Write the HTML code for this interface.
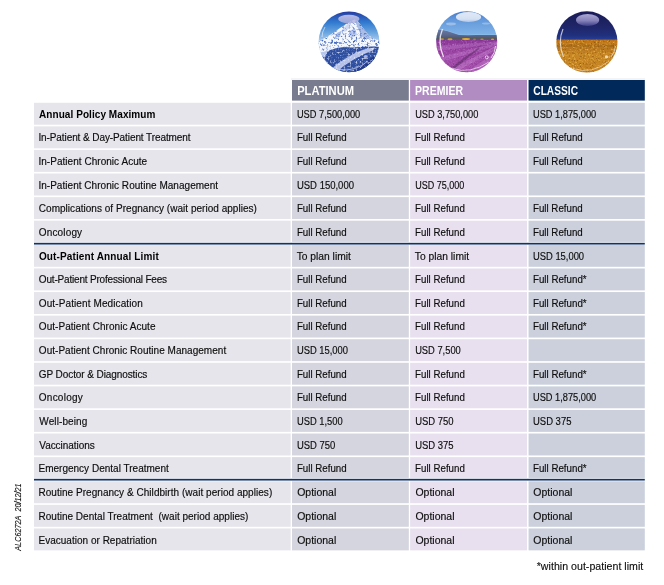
<!DOCTYPE html>
<html><head><meta charset="utf-8"><style>
html,body{margin:0;padding:0;background:#fff;}
body{width:664px;height:585px;overflow:hidden;position:relative;}
svg{position:absolute;left:0;top:0;}
text{font-family:'Liberation Sans', Arial, sans-serif;}
.t{font-size:10px;fill:#0d0d0d;stroke:#0d0d0d;stroke-width:0.15px;}
.b{font-size:10px;font-weight:bold;fill:#000;}
.h{font-size:12.6px;font-weight:bold;fill:#fff;}
.fn{font-size:10.6px;fill:#0d0d0d;stroke:#0d0d0d;stroke-width:0.12px;}
.code{font-size:9.2px;font-style:italic;fill:#111;stroke:#111;stroke-width:0.1px;}
</style></head><body>
<svg width="664" height="585" viewBox="0 0 664 585">
<defs>
  <clipPath id="cp1"><circle cx="349" cy="41.8" r="30.4"/></clipPath>
  <clipPath id="cp2"><circle cx="466.7" cy="41.7" r="30.5"/></clipPath>
  <clipPath id="cp3"><circle cx="586.9" cy="41.9" r="30.6"/></clipPath>
  <clipPath id="mtnclip"><path d="M318 41 L325 38 L333 33 L340 28 L346 24 L351 21 L354.5 19.5 L358 21.5 L363 28 L368 34.5 L373 38.5 L380 40.5 L380 52 L318 52 Z"/></clipPath>
  <linearGradient id="sky1" gradientUnits="userSpaceOnUse" x1="0" y1="11" x2="0" y2="42">
    <stop offset="0" stop-color="#25379a"/><stop offset="0.12" stop-color="#2a4fb0"/><stop offset="0.35" stop-color="#2f78cf"/><stop offset="0.7" stop-color="#6aa6e0"/><stop offset="1" stop-color="#b3d1f1"/>
  </linearGradient>
  <linearGradient id="sky2" gradientUnits="userSpaceOnUse" x1="0" y1="11" x2="0" y2="38">
    <stop offset="0" stop-color="#4478c8"/><stop offset="0.3" stop-color="#6298da"/><stop offset="1" stop-color="#86b8ea"/>
  </linearGradient>
  <linearGradient id="sky3" gradientUnits="userSpaceOnUse" x1="0" y1="11" x2="0" y2="39.6">
    <stop offset="0" stop-color="#1a1b56"/><stop offset="0.5" stop-color="#1e2466"/><stop offset="0.85" stop-color="#21307c"/><stop offset="1" stop-color="#253c98"/>
  </linearGradient>
  <linearGradient id="hl3" x1="0" y1="0" x2="0" y2="1">
    <stop offset="0" stop-color="#aaa6d2"/><stop offset="0.55" stop-color="#8682ba"/><stop offset="1" stop-color="#3c3e8a"/>
  </linearGradient>
  <linearGradient id="hl1" x1="0" y1="0" x2="0" y2="1">
    <stop offset="0" stop-color="#cfcbee"/><stop offset="1" stop-color="#a8acdc"/>
  </linearGradient>
  <linearGradient id="cloud2" x1="0" y1="0" x2="0" y2="1">
    <stop offset="0" stop-color="#f2f5fb"/><stop offset="0.7" stop-color="#e2e9f6"/><stop offset="1" stop-color="#b9cbe9"/>
  </linearGradient>
  <linearGradient id="field3" gradientUnits="userSpaceOnUse" x1="0" y1="39.6" x2="0" y2="73">
    <stop offset="0" stop-color="#bc6e14"/><stop offset="0.12" stop-color="#c47c1c"/><stop offset="0.25" stop-color="#b8761e"/><stop offset="0.45" stop-color="#c98724"/><stop offset="1" stop-color="#c48222"/>
  </linearGradient>
  <linearGradient id="field2" gradientUnits="userSpaceOnUse" x1="0" y1="40" x2="0" y2="73">
    <stop offset="0" stop-color="#8c3a98"/><stop offset="0.4" stop-color="#9c46a4"/><stop offset="1" stop-color="#a650ac"/>
  </linearGradient>
  <filter id="spk" x="0" y="0" width="100%" height="100%" color-interpolation-filters="sRGB">
    <feTurbulence type="fractalNoise" baseFrequency="0.85" numOctaves="2" seed="3"/>
    <feColorMatrix type="matrix" values="0 0 0 0 0  0 0 0 0 0  0 0 0 0 0  3 0 0 0 -1.65" result="a"/>
    <feComposite in="SourceGraphic" in2="a" operator="in"/>
  </filter>
  <filter id="spkL" x="0" y="0" width="100%" height="100%" color-interpolation-filters="sRGB">
    <feTurbulence type="fractalNoise" baseFrequency="0.85" numOctaves="2" seed="9"/>
    <feColorMatrix type="matrix" values="0 0 0 0 0  0 0 0 0 0  0 0 0 0 0  0 3 0 0 -1.65" result="a"/>
    <feComposite in="SourceGraphic" in2="a" operator="in"/>
  </filter>
  <filter id="spkB" x="0" y="0" width="100%" height="100%" color-interpolation-filters="sRGB">
    <feTurbulence type="fractalNoise" baseFrequency="0.45" numOctaves="3" seed="21"/>
    <feColorMatrix type="matrix" values="0 0 0 0 0  0 0 0 0 0  0 0 0 0 0  0 0 4 0 -2.05" result="a"/>
    <feComposite in="SourceGraphic" in2="a" operator="in"/>
  </filter>
  <filter id="spkW" x="0" y="0" width="100%" height="100%" color-interpolation-filters="sRGB">
    <feTurbulence type="fractalNoise" baseFrequency="0.5" numOctaves="3" seed="33"/>
    <feColorMatrix type="matrix" values="0 0 0 0 0  0 0 0 0 0  0 0 0 0 0  0 4 0 0 -2.1" result="a"/>
    <feComposite in="SourceGraphic" in2="a" operator="in"/>
  </filter>
  <filter id="spk3d" x="0" y="0" width="100%" height="100%" color-interpolation-filters="sRGB">
    <feTurbulence type="fractalNoise" baseFrequency="0.55" numOctaves="3" seed="4"/>
    <feColorMatrix type="matrix" values="0 0 0 0 0  0 0 0 0 0  0 0 0 0 0  3 0 0 0 -1.6" result="a"/>
    <feComposite in="SourceGraphic" in2="a" operator="in"/>
  </filter>
  <filter id="spk3l" x="0" y="0" width="100%" height="100%" color-interpolation-filters="sRGB">
    <feTurbulence type="fractalNoise" baseFrequency="0.55" numOctaves="3" seed="14"/>
    <feColorMatrix type="matrix" values="0 0 0 0 0  0 0 0 0 0  0 0 0 0 0  0 3 0 0 -1.6" result="a"/>
    <feComposite in="SourceGraphic" in2="a" operator="in"/>
  </filter>
  <linearGradient id="mtn2" gradientUnits="userSpaceOnUse" x1="0" y1="29.5" x2="0" y2="39">
    <stop offset="0" stop-color="#6a78a2"/><stop offset="0.5" stop-color="#5e6a90"/><stop offset="1" stop-color="#4c5470"/>
  </linearGradient>
  <filter id="soft" x="-20%" y="-40%" width="140%" height="180%"><feGaussianBlur stdDeviation="0.7"/></filter>
</defs>
<!-- faint band above header -->
<rect x="291" y="78" width="354" height="2" fill="#f4f4f6"/>
<!-- Globe 1: mountain -->
<g clip-path="url(#cp1)">
  <rect x="318" y="11" width="62" height="62" fill="url(#sky1)"/>
  <path d="M318 41 L325 38 L333 33 L340 28 L346 24 L351 21 L354.5 19.5 L358 21.5 L363 28 L368 34.5 L373 38.5 L380 40.5 L380 52 L318 52 Z" fill="#f4f7fc"/>
  <path d="M354.5 19.5 L358 21.5 L363 28 L368 34.5 L371 38 L364 39.5 L360 33 L357 26 Z" fill="#aabde6"/>
  <path d="M347 24.5 L351.5 21.5 L350 27 L345 32 L342 30 Z" fill="#cfdaf2"/>
  <path d="M337 33 L342 30.5 L340 36 L334 38.5 Z" fill="#a9bce6"/>
  <path d="M349 31 L355 28.5 L357 35 L351 38 Z" fill="#b8c8ee"/>
  <rect x="318" y="18" width="62" height="34" fill="#2f58b8" filter="url(#spkB)" opacity="0.8" clip-path="url(#mtnclip)"/>
  <rect x="318" y="40.5" width="62" height="5" fill="#3c62bc" filter="url(#spkB)" opacity="0.9"/>
  <path d="M318 60 L324 54 L330 50 L337 48 L344 47 L352 47.5 L360 47 L368 46.5 L375 46.5 L380 47 L380 73 L318 73 Z" fill="#2e4ea0"/>
  <path d="M318 56 L323 52 L328 50.5 L326 55 L320 60 Z" fill="#b8c6ec"/>
  <path d="M327 73 L337 64 L347 57.5 L357 52 L367 48.5 L375 47.5 L373 50.5 L363 54.5 L353 60 L343 66.5 L336 73 Z" fill="#b4c0e8"/>
  <path d="M352 73 L361 65 L371 58 L380 54 L380 73 Z" fill="#223a8c"/>
  <rect x="318" y="46" width="62" height="27" fill="#e6ebfa" filter="url(#spkW)" opacity="0.8"/>
  <rect x="318" y="46" width="62" height="27" fill="#fff" filter="url(#spkL)" opacity="0.3"/>
  <ellipse cx="348.8" cy="19" rx="10.7" ry="4.2" fill="url(#hl1)" opacity="0.85"/>
  <path d="M325 27 Q322 32 322 37" stroke="#ffffff" stroke-width="1" fill="none" opacity="0.55"/>
  <path d="M339 69.5 Q355 72 368 61" stroke="#d8def4" stroke-width="0.9" fill="none" opacity="0.8"/>
  <ellipse cx="365.7" cy="56.5" rx="2" ry="1.6" fill="#b9c2ea" opacity="0.9"/>
</g>
<!-- Globe 2: lavender -->
<g clip-path="url(#cp2)">
  <rect x="436" y="11" width="62" height="30" fill="url(#sky2)"/>
  <ellipse cx="468.5" cy="17" rx="12.6" ry="5" fill="url(#cloud2)" opacity="0.9" filter="url(#soft)"/>
  <ellipse cx="451" cy="24" rx="5" ry="1.4" fill="#a6c4ec" opacity="0.8"/>
  <ellipse cx="486" cy="23.5" rx="4" ry="1.1" fill="#a6c4ec" opacity="0.7"/>
  <path d="M436 29 L441 29.1 L447 30.5 L453 32.5 L459 34.5 L468 34.7 L476 34.3 L486 34.5 L498 34.3 L498 36 L436 36 Z" fill="#8cc0ec"/>
  <path d="M436 29.6 L441 29.7 L447 31.1 L453 33.1 L459 35.1 L468 35.3 L476 34.9 L486 35.1 L498 34.9 L498 40 L436 40 Z" fill="url(#mtn2)"/>
  <rect x="436" y="38.4" width="62" height="1.8" fill="#5e5c4c"/>
  <ellipse cx="442" cy="39.1" rx="2" ry="0.9" fill="#c8a030" opacity="0.9"/>
  <ellipse cx="450" cy="39.2" rx="2.6" ry="0.9" fill="#d8aa2c" opacity="0.9"/>
  <ellipse cx="466" cy="39" rx="4" ry="1.1" fill="#e6b42a" opacity="0.95"/>
  <ellipse cx="474.5" cy="39.3" rx="1.6" ry="0.8" fill="#9a8a3a" opacity="0.9"/>
  <ellipse cx="482" cy="39.2" rx="1.8" ry="0.8" fill="#b89a34" opacity="0.9"/>
  <ellipse cx="492.5" cy="39.4" rx="1.6" ry="0.8" fill="#d8aa30" opacity="0.9"/>
  <rect x="436" y="40" width="62" height="33" fill="url(#field2)"/>
  <path d="M436 46 L498 41.5 L498 43.5 L436 51 Z" fill="#bc78c8" opacity="0.45"/>
  <path d="M436 58 L498 42.5 L498 45 L438 63 Z" fill="#c07ccc" opacity="0.45"/>
  <path d="M444 73 L498 44.5 L498 48.5 L454 73 Z" fill="#c482ce" opacity="0.5"/>
  <path d="M466 73 L498 50 L498 56 L478 73 Z" fill="#c07cca" opacity="0.45"/>
  <rect x="436" y="40" width="62" height="33" fill="#c47ad4" filter="url(#spk3l)" opacity="0.75"/>
  <rect x="436" y="40" width="62" height="33" fill="#5a1c6a" filter="url(#spk3d)" opacity="0.4"/>
  <path d="M452 67 L466 56.5 L478 48 L479.5 48.8 L468 57.5 L455 68.5 Z" fill="#3a2048" opacity="0.4"/>
  <path d="M442.5 29 Q437 42 443.5 57" stroke="#ffffff" stroke-width="1.3" fill="none" opacity="0.8"/>
  <path d="M452 68.5 Q470 74.5 489 62" stroke="#ffffff" stroke-width="0.8" fill="none" opacity="0.75"/>
  <path d="M495.5 46 Q495 53 491 58" stroke="#ffffff" stroke-width="1" fill="none" opacity="0.7"/>
  <circle cx="486.8" cy="57.3" r="1.5" fill="none" stroke="#fff" stroke-width="0.8" opacity="0.85"/>
</g>
<!-- Globe 3: wheat -->
<g clip-path="url(#cp3)">
  <rect x="556" y="11" width="62" height="29" fill="url(#sky3)"/>
  <rect x="556" y="39.6" width="62" height="34" fill="url(#field3)"/>
  <rect x="556" y="39.6" width="62" height="34" fill="#7a4408" filter="url(#spk3d)" opacity="0.7"/>
  <rect x="556" y="44.5" width="62" height="2.5" fill="#8a5a14" opacity="0.35"/>
  <rect x="556" y="39.6" width="62" height="34" fill="#f2c458" filter="url(#spk3l)" opacity="0.8"/>
  <ellipse cx="587.6" cy="20" rx="11.6" ry="6" fill="url(#hl3)"/>
  <path d="M563 29 Q557.3 42 563.5 57" stroke="#ffffff" stroke-width="1.2" fill="none" opacity="0.7"/>
  <path d="M573 68.5 Q592 75 609 61" stroke="#ffffff" stroke-width="0.8" fill="none" opacity="0.6"/>
  <path d="M615.5 46 Q615 52 611 57" stroke="#ffffff" stroke-width="1" fill="none" opacity="0.6"/>
  <ellipse cx="606.6" cy="56.8" rx="1.8" ry="1.5" fill="#f6e6c4" opacity="0.85"/>
</g>

<rect x="34.0" y="102.80" width="256.65" height="21.9" fill="#e5e5eb"/>
<rect x="292.0" y="102.80" width="116.80" height="21.9" fill="#d4d5de"/>
<rect x="410.1" y="102.80" width="116.90" height="21.9" fill="#e8e0ef"/>
<rect x="528.55" y="102.80" width="116.25" height="21.9" fill="#cbd0dc"/>
<rect x="34.0" y="126.38" width="256.65" height="21.9" fill="#e5e5eb"/>
<rect x="292.0" y="126.38" width="116.80" height="21.9" fill="#d4d5de"/>
<rect x="410.1" y="126.38" width="116.90" height="21.9" fill="#e8e0ef"/>
<rect x="528.55" y="126.38" width="116.25" height="21.9" fill="#cbd0dc"/>
<rect x="34.0" y="149.96" width="256.65" height="21.9" fill="#e5e5eb"/>
<rect x="292.0" y="149.96" width="116.80" height="21.9" fill="#d4d5de"/>
<rect x="410.1" y="149.96" width="116.90" height="21.9" fill="#e8e0ef"/>
<rect x="528.55" y="149.96" width="116.25" height="21.9" fill="#cbd0dc"/>
<rect x="34.0" y="173.54" width="256.65" height="21.9" fill="#e5e5eb"/>
<rect x="292.0" y="173.54" width="116.80" height="21.9" fill="#d4d5de"/>
<rect x="410.1" y="173.54" width="116.90" height="21.9" fill="#e8e0ef"/>
<rect x="528.55" y="173.54" width="116.25" height="21.9" fill="#cbd0dc"/>
<rect x="34.0" y="197.12" width="256.65" height="21.9" fill="#e5e5eb"/>
<rect x="292.0" y="197.12" width="116.80" height="21.9" fill="#d4d5de"/>
<rect x="410.1" y="197.12" width="116.90" height="21.9" fill="#e8e0ef"/>
<rect x="528.55" y="197.12" width="116.25" height="21.9" fill="#cbd0dc"/>
<rect x="34.0" y="220.70" width="256.65" height="21.2" fill="#e5e5eb"/>
<rect x="292.0" y="220.70" width="116.80" height="21.2" fill="#d4d5de"/>
<rect x="410.1" y="220.70" width="116.90" height="21.2" fill="#e8e0ef"/>
<rect x="528.55" y="220.70" width="116.25" height="21.2" fill="#cbd0dc"/>
<rect x="34.0" y="244.90" width="256.65" height="21.9" fill="#e5e5eb"/>
<rect x="292.0" y="244.90" width="116.80" height="21.9" fill="#d4d5de"/>
<rect x="410.1" y="244.90" width="116.90" height="21.9" fill="#e8e0ef"/>
<rect x="528.55" y="244.90" width="116.25" height="21.9" fill="#cbd0dc"/>
<rect x="34.0" y="268.48" width="256.65" height="21.9" fill="#e5e5eb"/>
<rect x="292.0" y="268.48" width="116.80" height="21.9" fill="#d4d5de"/>
<rect x="410.1" y="268.48" width="116.90" height="21.9" fill="#e8e0ef"/>
<rect x="528.55" y="268.48" width="116.25" height="21.9" fill="#cbd0dc"/>
<rect x="34.0" y="292.06" width="256.65" height="21.9" fill="#e5e5eb"/>
<rect x="292.0" y="292.06" width="116.80" height="21.9" fill="#d4d5de"/>
<rect x="410.1" y="292.06" width="116.90" height="21.9" fill="#e8e0ef"/>
<rect x="528.55" y="292.06" width="116.25" height="21.9" fill="#cbd0dc"/>
<rect x="34.0" y="315.64" width="256.65" height="21.9" fill="#e5e5eb"/>
<rect x="292.0" y="315.64" width="116.80" height="21.9" fill="#d4d5de"/>
<rect x="410.1" y="315.64" width="116.90" height="21.9" fill="#e8e0ef"/>
<rect x="528.55" y="315.64" width="116.25" height="21.9" fill="#cbd0dc"/>
<rect x="34.0" y="339.22" width="256.65" height="21.9" fill="#e5e5eb"/>
<rect x="292.0" y="339.22" width="116.80" height="21.9" fill="#d4d5de"/>
<rect x="410.1" y="339.22" width="116.90" height="21.9" fill="#e8e0ef"/>
<rect x="528.55" y="339.22" width="116.25" height="21.9" fill="#cbd0dc"/>
<rect x="34.0" y="362.80" width="256.65" height="21.9" fill="#e5e5eb"/>
<rect x="292.0" y="362.80" width="116.80" height="21.9" fill="#d4d5de"/>
<rect x="410.1" y="362.80" width="116.90" height="21.9" fill="#e8e0ef"/>
<rect x="528.55" y="362.80" width="116.25" height="21.9" fill="#cbd0dc"/>
<rect x="34.0" y="386.38" width="256.65" height="21.9" fill="#e5e5eb"/>
<rect x="292.0" y="386.38" width="116.80" height="21.9" fill="#d4d5de"/>
<rect x="410.1" y="386.38" width="116.90" height="21.9" fill="#e8e0ef"/>
<rect x="528.55" y="386.38" width="116.25" height="21.9" fill="#cbd0dc"/>
<rect x="34.0" y="409.96" width="256.65" height="21.9" fill="#e5e5eb"/>
<rect x="292.0" y="409.96" width="116.80" height="21.9" fill="#d4d5de"/>
<rect x="410.1" y="409.96" width="116.90" height="21.9" fill="#e8e0ef"/>
<rect x="528.55" y="409.96" width="116.25" height="21.9" fill="#cbd0dc"/>
<rect x="34.0" y="433.54" width="256.65" height="21.9" fill="#e5e5eb"/>
<rect x="292.0" y="433.54" width="116.80" height="21.9" fill="#d4d5de"/>
<rect x="410.1" y="433.54" width="116.90" height="21.9" fill="#e8e0ef"/>
<rect x="528.55" y="433.54" width="116.25" height="21.9" fill="#cbd0dc"/>
<rect x="34.0" y="457.12" width="256.65" height="20.8" fill="#e5e5eb"/>
<rect x="292.0" y="457.12" width="116.80" height="20.8" fill="#d4d5de"/>
<rect x="410.1" y="457.12" width="116.90" height="20.8" fill="#e8e0ef"/>
<rect x="528.55" y="457.12" width="116.25" height="20.8" fill="#cbd0dc"/>
<rect x="34.0" y="481.30" width="256.65" height="21.9" fill="#e5e5eb"/>
<rect x="292.0" y="481.30" width="116.80" height="21.9" fill="#d4d5de"/>
<rect x="410.1" y="481.30" width="116.90" height="21.9" fill="#e8e0ef"/>
<rect x="528.55" y="481.30" width="116.25" height="21.9" fill="#cbd0dc"/>
<rect x="34.0" y="504.88" width="256.65" height="21.9" fill="#e5e5eb"/>
<rect x="292.0" y="504.88" width="116.80" height="21.9" fill="#d4d5de"/>
<rect x="410.1" y="504.88" width="116.90" height="21.9" fill="#e8e0ef"/>
<rect x="528.55" y="504.88" width="116.25" height="21.9" fill="#cbd0dc"/>
<rect x="34.0" y="528.46" width="256.65" height="21.9" fill="#e5e5eb"/>
<rect x="292.0" y="528.46" width="116.80" height="21.9" fill="#d4d5de"/>
<rect x="410.1" y="528.46" width="116.90" height="21.9" fill="#e8e0ef"/>
<rect x="528.55" y="528.46" width="116.25" height="21.9" fill="#cbd0dc"/>
<rect x="34" y="242.8" width="610.8" height="1.75" fill="#12336a"/>
<rect x="34" y="478.8" width="610.8" height="1.75" fill="#12336a"/>
<rect x="292.0" y="80" width="116.80" height="20.6" fill="#797c8f"/>
<rect x="410.1" y="80" width="116.90" height="20.6" fill="#b08cc3"/>
<rect x="528.55" y="80" width="116.25" height="20.6" fill="#01295a"/>
<text x="297.16" y="94.90" class="h" textLength="56.89" lengthAdjust="spacingAndGlyphs">PLATINUM</text>
<text x="415.06" y="94.90" class="h" textLength="48.00" lengthAdjust="spacingAndGlyphs">PREMIER</text>
<text x="533.28" y="94.90" class="h" textLength="44.76" lengthAdjust="spacingAndGlyphs">CLASSIC</text>
<text x="39.05" y="117.65" class="b" textLength="116.37" lengthAdjust="spacing">Annual Policy Maximum</text>
<text x="296.93" y="117.65" class="t" textLength="63.26" lengthAdjust="spacingAndGlyphs">USD 7,500,000</text>
<text x="415.13" y="117.65" class="t" textLength="63.26" lengthAdjust="spacingAndGlyphs">USD 3,750,000</text>
<text x="533.03" y="117.65" class="t" textLength="63.26" lengthAdjust="spacingAndGlyphs">USD 1,875,000</text>
<text x="38.38" y="141.23" class="t" textLength="152.20" lengthAdjust="spacing">In-Patient &amp; Day-Patient Treatment</text>
<text x="296.88" y="141.23" class="t" textLength="49.76" lengthAdjust="spacingAndGlyphs">Full Refund</text>
<text x="415.08" y="141.23" class="t" textLength="49.76" lengthAdjust="spacingAndGlyphs">Full Refund</text>
<text x="532.98" y="141.23" class="t" textLength="49.76" lengthAdjust="spacingAndGlyphs">Full Refund</text>
<text x="38.38" y="164.81" class="t" textLength="108.77" lengthAdjust="spacing">In-Patient Chronic Acute</text>
<text x="296.88" y="164.81" class="t" textLength="49.76" lengthAdjust="spacingAndGlyphs">Full Refund</text>
<text x="415.08" y="164.81" class="t" textLength="49.76" lengthAdjust="spacingAndGlyphs">Full Refund</text>
<text x="532.98" y="164.81" class="t" textLength="49.76" lengthAdjust="spacingAndGlyphs">Full Refund</text>
<text x="38.38" y="188.89" class="t" textLength="179.70" lengthAdjust="spacing">In-Patient Chronic Routine Management</text>
<text x="296.93" y="188.89" class="t" textLength="57.06" lengthAdjust="spacingAndGlyphs">USD 150,000</text>
<text x="415.13" y="188.89" class="t" textLength="49.06" lengthAdjust="spacingAndGlyphs">USD 75,000</text>
<text x="38.79" y="211.97" class="t" textLength="218.13" lengthAdjust="spacing">Complications of Pregnancy (wait period applies)</text>
<text x="296.88" y="211.97" class="t" textLength="49.76" lengthAdjust="spacingAndGlyphs">Full Refund</text>
<text x="415.08" y="211.97" class="t" textLength="49.76" lengthAdjust="spacingAndGlyphs">Full Refund</text>
<text x="532.98" y="211.97" class="t" textLength="49.76" lengthAdjust="spacingAndGlyphs">Full Refund</text>
<text x="38.83" y="235.55" class="t" textLength="43.29" lengthAdjust="spacing">Oncology</text>
<text x="296.88" y="235.55" class="t" textLength="49.76" lengthAdjust="spacingAndGlyphs">Full Refund</text>
<text x="415.08" y="235.55" class="t" textLength="49.76" lengthAdjust="spacingAndGlyphs">Full Refund</text>
<text x="532.98" y="235.55" class="t" textLength="49.76" lengthAdjust="spacingAndGlyphs">Full Refund</text>
<text x="38.89" y="259.75" class="b" textLength="119.83" lengthAdjust="spacing">Out-Patient Annual Limit</text>
<text x="296.68" y="259.75" class="t" textLength="54.20" lengthAdjust="spacingAndGlyphs">To plan limit</text>
<text x="414.88" y="259.75" class="t" textLength="54.20" lengthAdjust="spacingAndGlyphs">To plan limit</text>
<text x="533.03" y="259.75" class="t" textLength="51.06" lengthAdjust="spacingAndGlyphs">USD 15,000</text>
<text x="38.83" y="283.33" class="t" textLength="128.23" lengthAdjust="spacing">Out-Patient Professional Fees</text>
<text x="296.88" y="283.33" class="t" textLength="49.76" lengthAdjust="spacingAndGlyphs">Full Refund</text>
<text x="415.08" y="283.33" class="t" textLength="49.76" lengthAdjust="spacingAndGlyphs">Full Refund</text>
<text x="532.98" y="283.33" class="t" textLength="53.68" lengthAdjust="spacingAndGlyphs">Full Refund*</text>
<text x="38.83" y="306.91" class="t" textLength="103.92" lengthAdjust="spacing">Out-Patient Medication</text>
<text x="296.88" y="306.91" class="t" textLength="49.76" lengthAdjust="spacingAndGlyphs">Full Refund</text>
<text x="415.08" y="306.91" class="t" textLength="49.76" lengthAdjust="spacingAndGlyphs">Full Refund</text>
<text x="532.98" y="306.91" class="t" textLength="53.68" lengthAdjust="spacingAndGlyphs">Full Refund*</text>
<text x="38.83" y="330.49" class="t" textLength="116.62" lengthAdjust="spacing">Out-Patient Chronic Acute</text>
<text x="296.88" y="330.49" class="t" textLength="49.76" lengthAdjust="spacingAndGlyphs">Full Refund</text>
<text x="415.08" y="330.49" class="t" textLength="49.76" lengthAdjust="spacingAndGlyphs">Full Refund</text>
<text x="532.98" y="330.49" class="t" textLength="53.68" lengthAdjust="spacingAndGlyphs">Full Refund*</text>
<text x="38.83" y="354.07" class="t" textLength="187.35" lengthAdjust="spacing">Out-Patient Chronic Routine Management</text>
<text x="296.93" y="354.07" class="t" textLength="51.06" lengthAdjust="spacingAndGlyphs">USD 15,000</text>
<text x="415.13" y="354.07" class="t" textLength="45.66" lengthAdjust="spacingAndGlyphs">USD 7,500</text>
<text x="38.80" y="377.65" class="t" textLength="108.56" lengthAdjust="spacing">GP Doctor &amp; Diagnostics</text>
<text x="296.88" y="377.65" class="t" textLength="49.76" lengthAdjust="spacingAndGlyphs">Full Refund</text>
<text x="415.08" y="377.65" class="t" textLength="49.76" lengthAdjust="spacingAndGlyphs">Full Refund</text>
<text x="532.98" y="377.65" class="t" textLength="53.68" lengthAdjust="spacingAndGlyphs">Full Refund*</text>
<text x="38.83" y="401.23" class="t" textLength="43.89" lengthAdjust="spacing">Oncology</text>
<text x="296.88" y="401.23" class="t" textLength="49.76" lengthAdjust="spacingAndGlyphs">Full Refund</text>
<text x="415.08" y="401.23" class="t" textLength="49.76" lengthAdjust="spacingAndGlyphs">Full Refund</text>
<text x="533.03" y="401.23" class="t" textLength="63.26" lengthAdjust="spacingAndGlyphs">USD 1,875,000</text>
<text x="39.26" y="424.81" class="t" textLength="48.09" lengthAdjust="spacing">Well-being</text>
<text x="296.93" y="424.81" class="t" textLength="45.66" lengthAdjust="spacingAndGlyphs">USD 1,500</text>
<text x="415.13" y="424.81" class="t" textLength="38.36" lengthAdjust="spacingAndGlyphs">USD 750</text>
<text x="533.03" y="424.81" class="t" textLength="38.39" lengthAdjust="spacingAndGlyphs">USD 375</text>
<text x="39.26" y="448.79" class="t" textLength="55.41" lengthAdjust="spacing">Vaccinations</text>
<text x="296.93" y="448.79" class="t" textLength="38.36" lengthAdjust="spacingAndGlyphs">USD 750</text>
<text x="415.13" y="448.79" class="t" textLength="38.39" lengthAdjust="spacingAndGlyphs">USD 375</text>
<text x="38.48" y="471.97" class="t" textLength="130.29" lengthAdjust="spacing">Emergency Dental Treatment</text>
<text x="296.88" y="471.97" class="t" textLength="49.76" lengthAdjust="spacingAndGlyphs">Full Refund</text>
<text x="415.08" y="471.97" class="t" textLength="49.76" lengthAdjust="spacingAndGlyphs">Full Refund</text>
<text x="532.98" y="471.97" class="t" textLength="53.68" lengthAdjust="spacingAndGlyphs">Full Refund*</text>
<text x="38.48" y="496.15" class="t" textLength="233.74" lengthAdjust="spacing">Routine Pregnancy &amp; Childbirth (wait period applies)</text>
<text x="297.23" y="496.15" class="t" textLength="39.04" lengthAdjust="spacingAndGlyphs">Optional</text>
<text x="415.43" y="496.15" class="t" textLength="39.04" lengthAdjust="spacingAndGlyphs">Optional</text>
<text x="533.33" y="496.15" class="t" textLength="39.04" lengthAdjust="spacingAndGlyphs">Optional</text>
<text x="38.48" y="519.73" class="t" textLength="209.84" lengthAdjust="spacing">Routine Dental Treatment&#160; (wait period applies)</text>
<text x="297.23" y="519.73" class="t" textLength="39.04" lengthAdjust="spacingAndGlyphs">Optional</text>
<text x="415.43" y="519.73" class="t" textLength="39.04" lengthAdjust="spacingAndGlyphs">Optional</text>
<text x="533.33" y="519.73" class="t" textLength="39.04" lengthAdjust="spacingAndGlyphs">Optional</text>
<text x="38.48" y="543.71" class="t" textLength="118.27" lengthAdjust="spacing">Evacuation or Repatriation</text>
<text x="297.23" y="543.71" class="t" textLength="39.04" lengthAdjust="spacingAndGlyphs">Optional</text>
<text x="415.43" y="543.71" class="t" textLength="39.04" lengthAdjust="spacingAndGlyphs">Optional</text>
<text x="533.33" y="543.71" class="t" textLength="39.04" lengthAdjust="spacingAndGlyphs">Optional</text>
<text x="536.73" y="569.60" class="fn" textLength="106.55" lengthAdjust="spacing">*within out-patient limit</text>
<text transform="translate(21.0,550.72) rotate(-90)" class="code" textLength="67.37" lengthAdjust="spacingAndGlyphs">ALC6272A&#160; 20/12/21</text>
</svg>
</body></html>
